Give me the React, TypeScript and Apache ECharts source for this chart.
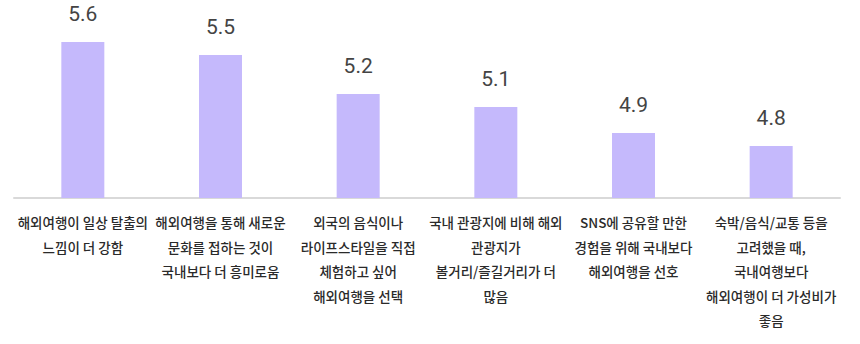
import React, { useEffect, useRef } from "react";
import * as echarts from "echarts";

const categories: string[] = [
  "해외여행이 일상 탈출의\n느낌이 더 강함",
  "해외여행을 통해 새로운\n문화를 접하는 것이\n국내보다 더 흥미로움",
  "외국의 음식이나\n라이프스타일을 직접\n체험하고 싶어\n해외여행을 선택",
  "국내 관광지에 비해 해외\n관광지가\n볼거리/즐길거리가 더\n많음",
  "SNS에 공유할 만한\n경험을 위해 국내보다\n해외여행을 선호",
  "숙박/음식/교통 등을\n고려했을 때,\n국내여행보다\n해외여행이 더 가성비가\n좋음",
];

const values: number[] = [5.6, 5.5, 5.2, 5.1, 4.9, 4.8];

export default function App() {
  const ref = useRef<HTMLDivElement>(null);
  useEffect(() => {
    if (!ref.current) return;
    const chart = echarts.init(ref.current, undefined, { renderer: "svg" });
    chart.setOption({
      animation: false,
      grid: { left: 14, right: 20, top: 16, bottom: 146, containLabel: false },
      xAxis: {
        type: "category",
        data: categories,
        axisLine: { show: true, lineStyle: { color: "#d9d9d9", width: 2 } },
        axisTick: { show: false },
        axisLabel: {
          interval: 0,
          margin: 12,
          color: "#2a2a2a",
          fontSize: 13.5,
          fontWeight: 500,
          lineHeight: 24.5,
          fontFamily: "'Noto Sans CJK KR', sans-serif",
          align: "center",
        },
      },
      yAxis: {
        type: "value",
        min: 4.4,
        max: 5.8,
        show: false,
        splitLine: { show: false },
      },
      series: [
        {
          type: "bar",
          data: values,
          barWidth: 43,
          itemStyle: { color: "#c5b9fc" },
          label: {
            show: true,
            position: "top",
            distance: 18,
            color: "#444444",
            fontSize: 21,
            fontFamily: "Roboto, sans-serif",
            formatter: (p: any) => Number(p.value).toFixed(1),
          },
        },
      ],
    });
    return () => chart.dispose();
  }, []);
  return (
    <div
      ref={ref}
      style={{ position: "fixed", left: 0, top: 0, width: 860, height: 344, background: "#fff" }}
    />
  );
}
